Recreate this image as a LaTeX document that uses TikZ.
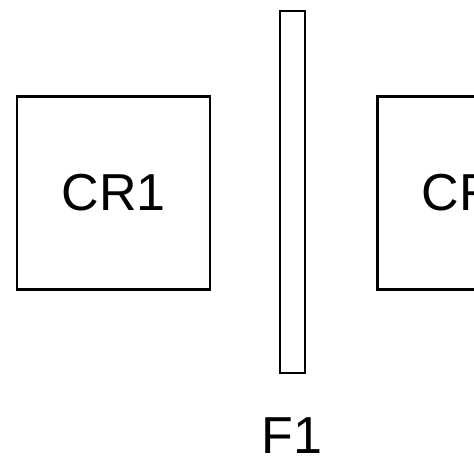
\documentclass[tikz,border=0pt]{standalone}
\usepackage{fontspec}
\setmainfont{Liberation Sans}
\begin{document}
\begin{tikzpicture}[x=1pt,y=-1pt,
  crbox/.style={draw,line width=2.6pt,minimum width=193pt,minimum height=193pt,inner sep=0pt,font=\fontsize{52}{52}\selectfont},
  filt/.style={draw,line width=2.6pt,minimum width=25pt,minimum height=362pt,inner sep=0pt},
  lbl/.style={font=\fontsize{52}{52}\selectfont,inner sep=0pt}]
\useasboundingbox (0,0) rectangle (474,474);
\clip (0,0) rectangle (474,474);
\node[crbox] (cr1) at (113.5,193) {CR1};
\node[filt] (f) at (292.5,192) {};
\node[crbox] (cr2) at (474,193) {CR2};
\node[lbl,anchor=base] (f1) at (292,453) {F1};
\end{tikzpicture}
\end{document}
